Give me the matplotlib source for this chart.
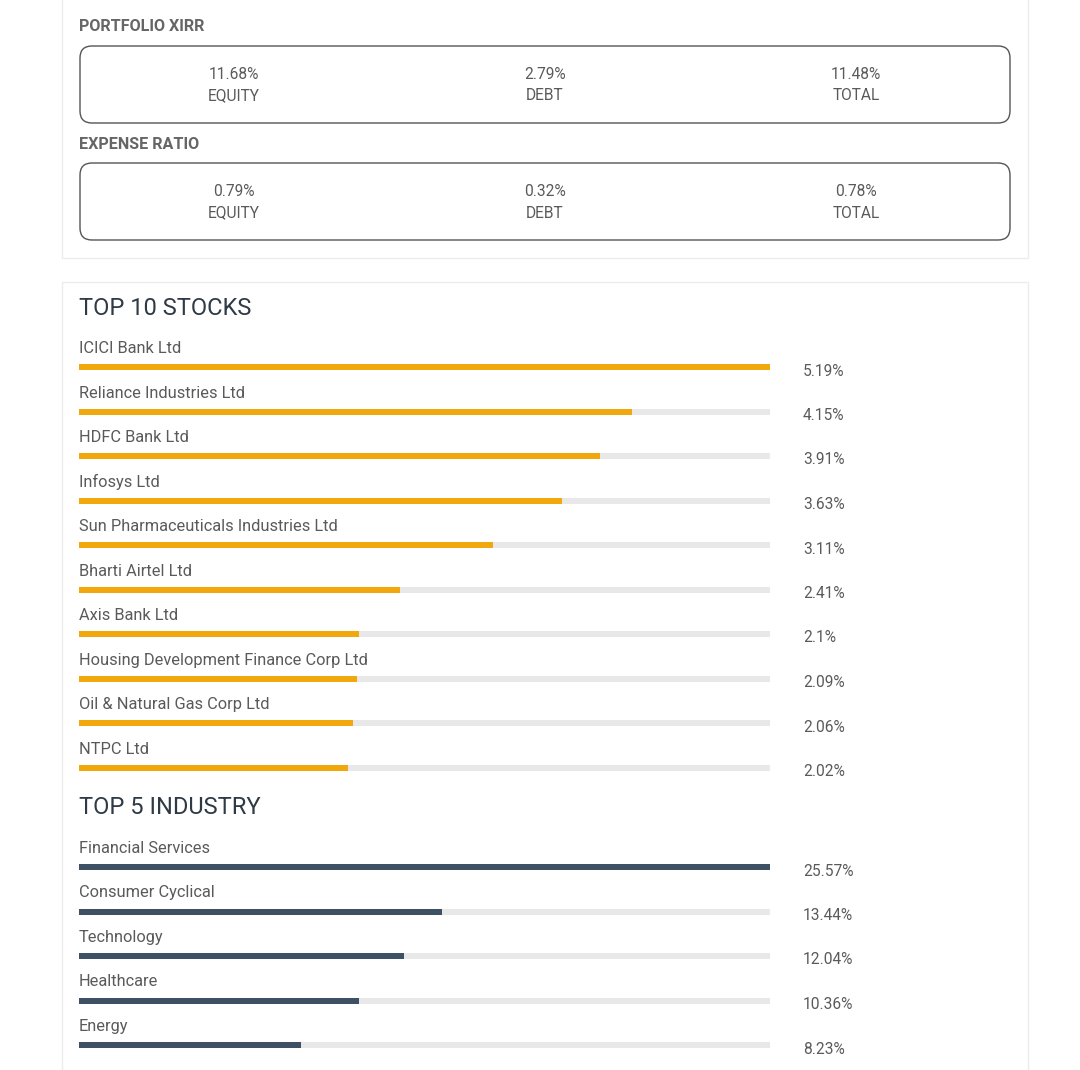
import matplotlib
matplotlib.use("Agg")
import matplotlib.pyplot as plt
from matplotlib.patches import FancyBboxPatch, Rectangle

plt.rcParams['font.family'] = ['Roboto', 'DejaVu Sans']

# ---- data ----
xirr_labels = ["EQUITY", "DEBT", "TOTAL"]
xirr_values = ["11.68%", "2.79%", "11.48%"]
expense_labels = ["EQUITY", "DEBT", "TOTAL"]
expense_values = ["0.79%", "0.32%", "0.78%"]

stock_names = ["ICICI Bank Ltd", "Reliance Industries Ltd", "HDFC Bank Ltd", "Infosys Ltd",
               "Sun Pharmaceuticals Industries Ltd", "Bharti Airtel Ltd", "Axis Bank Ltd",
               "Housing Development Finance Corp Ltd", "Oil & Natural Gas Corp Ltd", "NTPC Ltd"]
stock_values = [5.19, 4.15, 3.91, 3.63, 3.11, 2.41, 2.1, 2.09, 2.06, 2.02]
stock_labels = ["5.19%", "4.15%", "3.91%", "3.63%", "3.11%", "2.41%", "2.1%", "2.09%", "2.06%", "2.02%"]

industry_names = ["Financial Services", "Consumer Cyclical", "Technology", "Healthcare", "Energy"]
industry_values = [25.57, 13.44, 12.04, 10.36, 8.23]
industry_labels = ["25.57%", "13.44%", "12.04%", "10.36%", "8.23%"]

# ---- style ----
W, H = 1080, 1070
ORANGE = "#f0a80c"
SLATE = "#3e5064"
TRACK = "#e8e8e8"
GRAY = "#5a5a5a"
TITLE_GRAY = "#666666"
DARK = "#2e3a45"
CARD_EDGE = "#ececec"

fig = plt.figure(figsize=(W / 100, H / 100), dpi=100)
ax = fig.add_axes([0, 0, 1, 1])
ax.set_xlim(0, W)
ax.set_ylim(H, 0)
ax.axis("off")

# cards
ax.add_patch(Rectangle((62, -5), 966, 263, facecolor="white", edgecolor=CARD_EDGE, lw=1))
ax.add_patch(Rectangle((62, 282), 966, 800, facecolor="white", edgecolor=CARD_EDGE, lw=1))

# summary boxes
col_x = [234, 545, 856]

def summary(title, ty, box_top, values, labels):
    ax.text(79, ty + 1.5, title, fontsize=11.6, fontweight="bold", color=TITLE_GRAY, va="center", ha="left")
    ax.add_patch(FancyBboxPatch((80, box_top), 930, 77, boxstyle="round,pad=0,rounding_size=12",
                                facecolor="white", edgecolor="#555555", lw=1.0))
    for x, v, l in zip(col_x, values, labels):
        ax.text(x, box_top + 28.5, v, fontsize=11.2, color=GRAY, ha="center", va="center")
        ax.text(x, box_top + 50, l, fontsize=11.2, color=GRAY, ha="center", va="center")

summary("PORTFOLIO XIRR", 25, 46, xirr_values, xirr_labels)
summary("EXPENSE RATIO", 143, 163, expense_values, expense_labels)

BAR_LEFT, BAR_W = 79, 691
SPACING = 44.5

def section(title, ty, first_name_y, names, values, labels, color):
    ax.text(79, ty + 1.5, title, fontsize=17, color=DARK, va="center", ha="left")
    vmax = max(values)
    for i, (n, v, l) in enumerate(zip(names, values, labels)):
        ny = first_name_y + i * SPACING
        by = ny + 20
        ax.text(79, ny + 1.5, n, fontsize=11.8, color=GRAY, va="center", ha="left")
        ax.barh(by, BAR_W, left=BAR_LEFT, height=6, color=TRACK, edgecolor="none")
        ax.barh(by, v / vmax * BAR_W, left=BAR_LEFT, height=6, color=color, edgecolor="none")
        ax.text(803, by + 4, l, fontsize=11.2, color=GRAY, va="center", ha="left")

section("TOP 10 STOCKS", 307, 347, stock_names, stock_values, stock_labels, ORANGE)
section("TOP 5 INDUSTRY", 806, 847, industry_names, industry_values, industry_labels, SLATE)

fig.savefig("out.png", dpi=100, facecolor="white")
